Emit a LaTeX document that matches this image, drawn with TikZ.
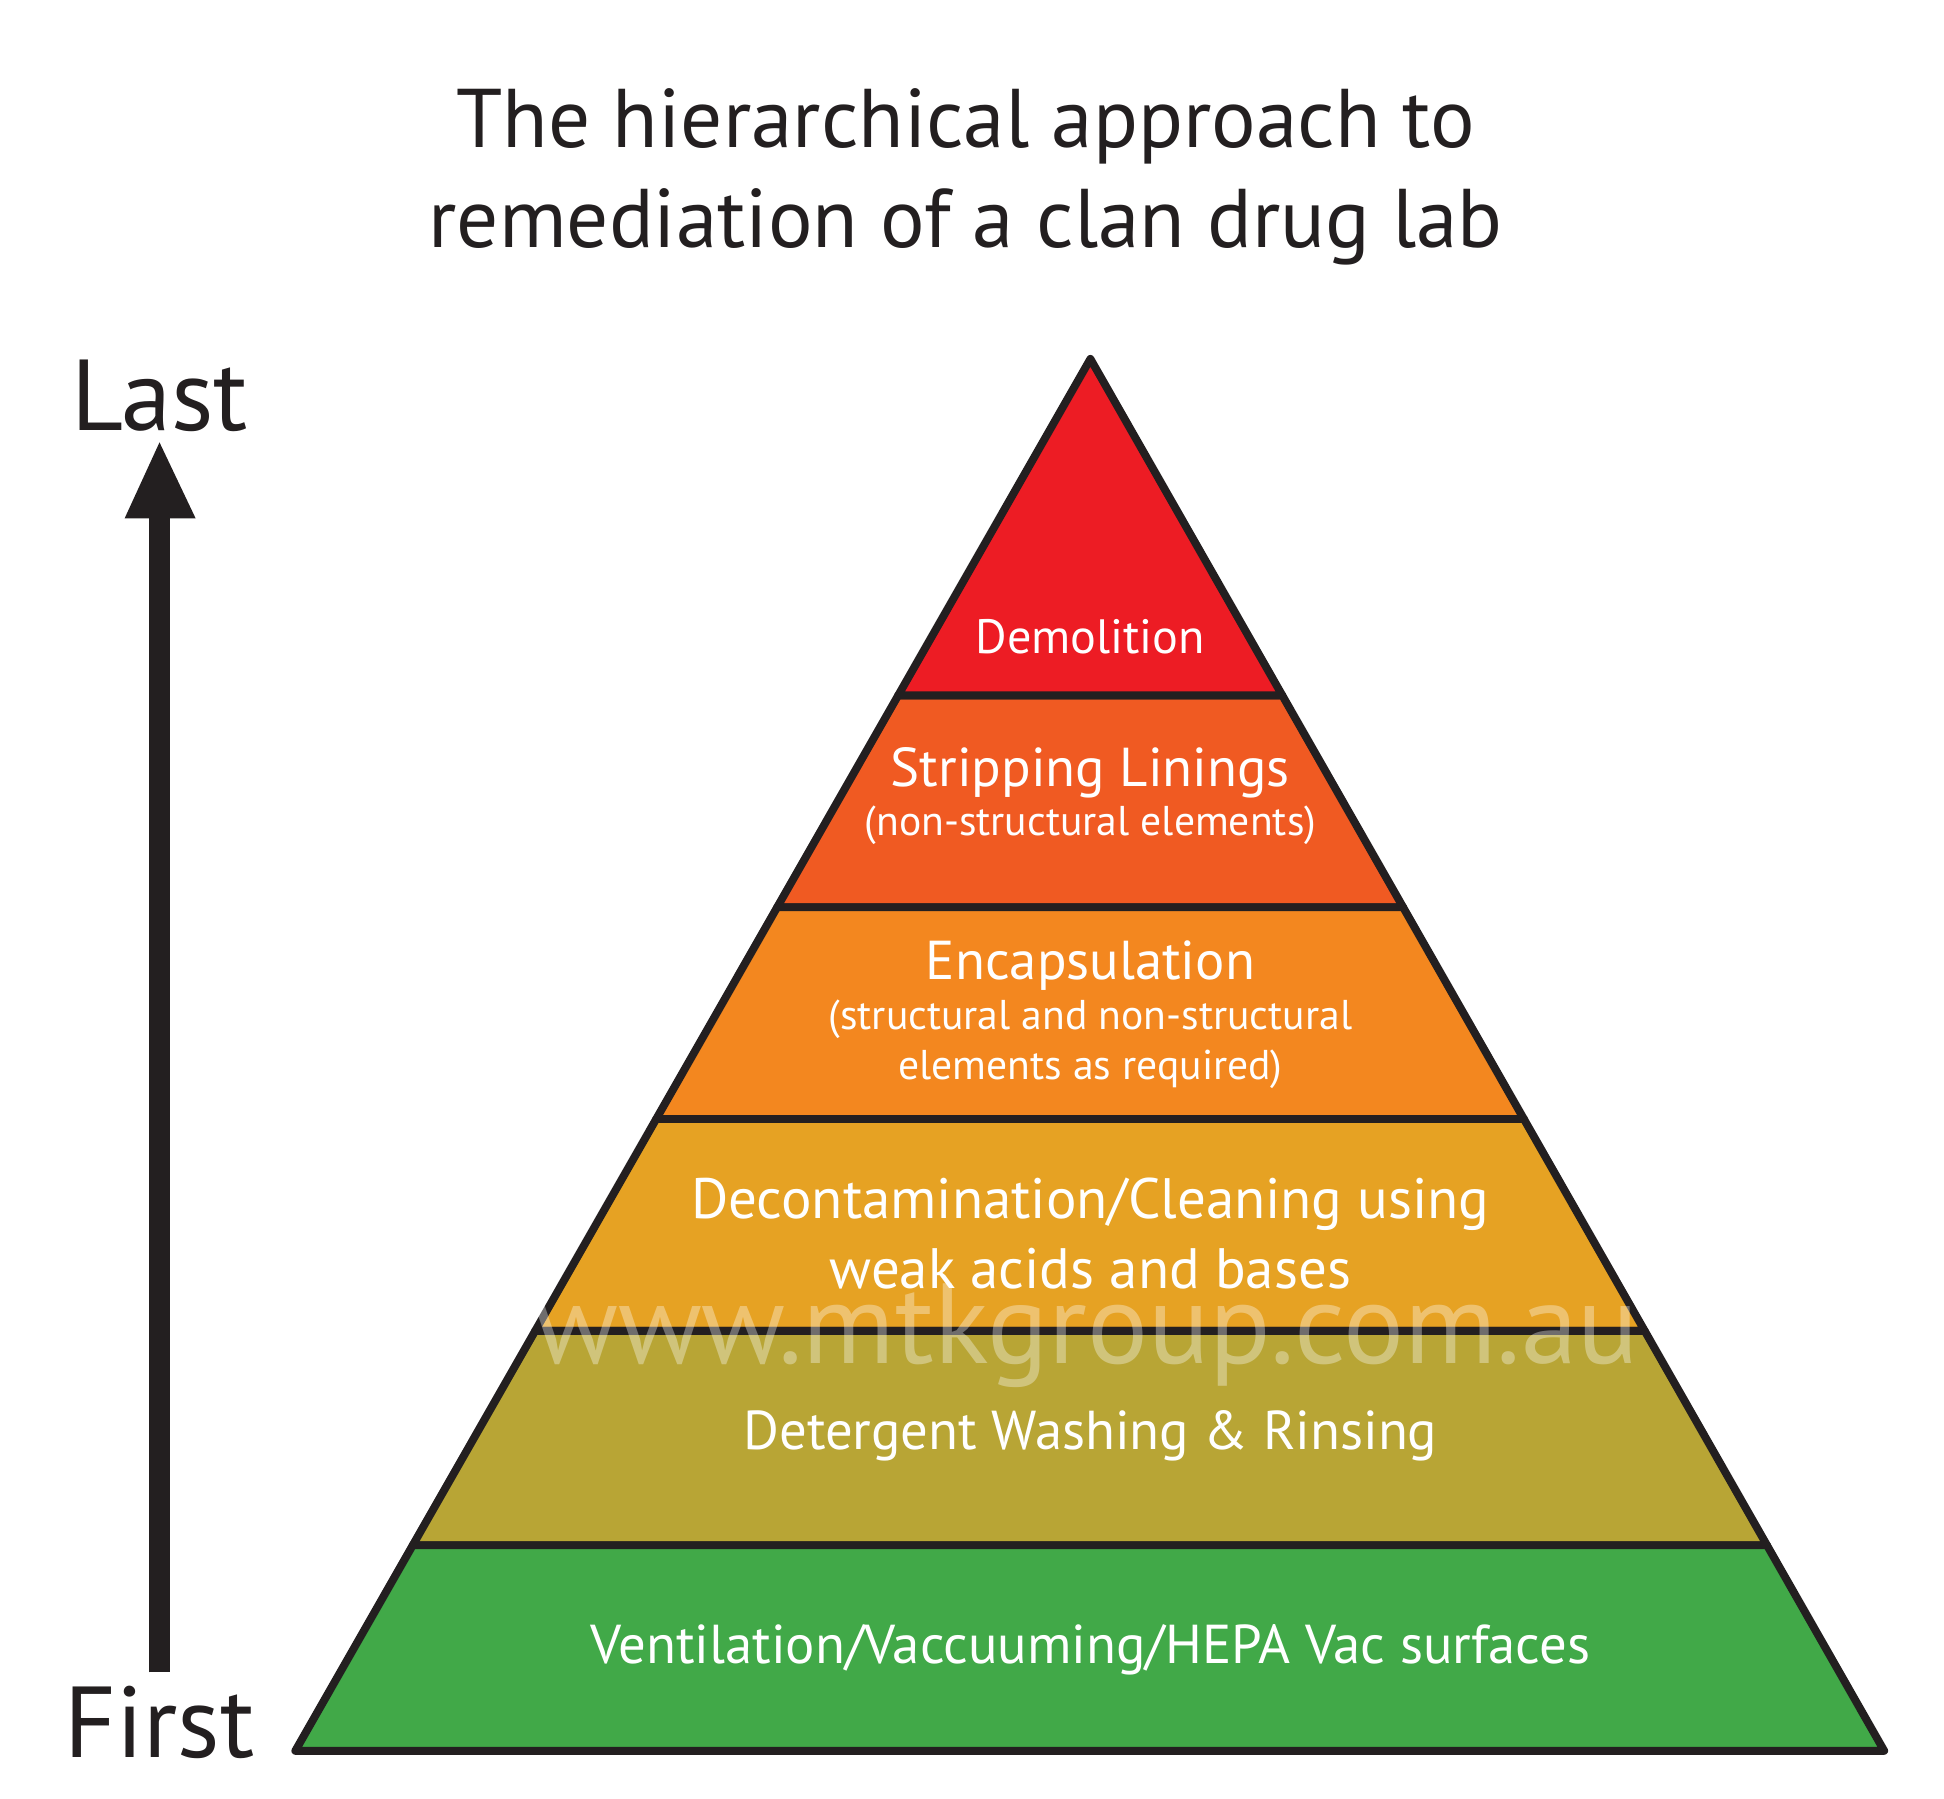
\documentclass[tikz,border=0pt]{standalone}
\usepackage{fontspec}
\setmainfont{PT Sans}
\usetikzlibrary{calc}
\definecolor{cA}{HTML}{ED1C24}
\definecolor{cB}{HTML}{F05A22}
\definecolor{cC}{HTML}{F3871F}
\definecolor{cD}{HTML}{E6A223}
\definecolor{cE}{HTML}{B8A535}
\definecolor{cF}{HTML}{41A948}
\definecolor{ink}{HTML}{231F20}
\begin{document}
\begin{tikzpicture}[x=0.01cm,y=-0.01cm,
  band/.style={draw=ink,line width=1.8pt,line join=round},
  lab/.style={text=white,align=center,font=\fontsize{12.5}{15}\selectfont},
  sub/.style={text=white,align=center,font=\fontsize{9.5}{11.5}\selectfont}]
\useasboundingbox (0,0) rectangle (1560,1443);
\def\L#1{875-0.5712*(#1-288)}
\def\R#1{875+0.5703*(#1-288)}
\coordinate (ap) at (875,288);
\foreach \ya/\yb/\c in {558/728/cB,728/898/cC,898/1068/cD,1068/1240/cE,1240/1405/cF}{
  \filldraw[band,fill=\c] ({\L{\ya}},\ya) -- ({\R{\ya}},\ya) -- ({\R{\yb}},\yb) -- ({\L{\yb}},\yb) -- cycle;}
\filldraw[band,fill=cA] (ap) -- ({\R{558}},558) -- ({\L{558}},558) -- cycle;
\node[lab,font=\fontsize{11}{13}\selectfont] (t1) at (875,511) {Demolition};
\node[lab] (t2) at (875,620) {Stripping Linings};
\node[sub] (s2) at (875,662) {(non-structural elements)};
\node[lab] (t3) at (875,775) {Encapsulation};
\node[sub] (s3) at (875,838) {(structural and non-structural\\elements as required)};
\node[lab,font=\fontsize{13}{16}\selectfont] (t4) at (875,990) {Decontamination/Cleaning using\\weak acids and bases};
\node[lab] (t5) at (875,1152) {Detergent Washing \& Rinsing};
\node[lab] (t6) at (875,1324) {Ventilation/Vaccuuming/HEPA Vac surfaces};
\node[text=white,opacity=0.35,font=\fontsize{26}{30}\selectfont] (wm) at (872,1072) {www.mtkgroup.com.au};
\node[text=ink,align=center,font=\fontsize{19}{23}\selectfont] (title) at (775,142) {The hierarchical approach to\\remediation of a clan drug lab};
\node[text=ink,font=\fontsize{23}{27}\selectfont] (last) at (128,318) {Last};
\node[text=ink,font=\fontsize{23}{27}\selectfont] (first) at (128,1382) {First};
\coordinate (a0) at (128,1342);
\coordinate (a1) at (128,412);
\draw[ink,line width=5pt] (a0) -- (a1);
\fill[ink] (128,355) -- (157,416) -- (100,416) -- cycle;
\end{tikzpicture}
\end{document}
